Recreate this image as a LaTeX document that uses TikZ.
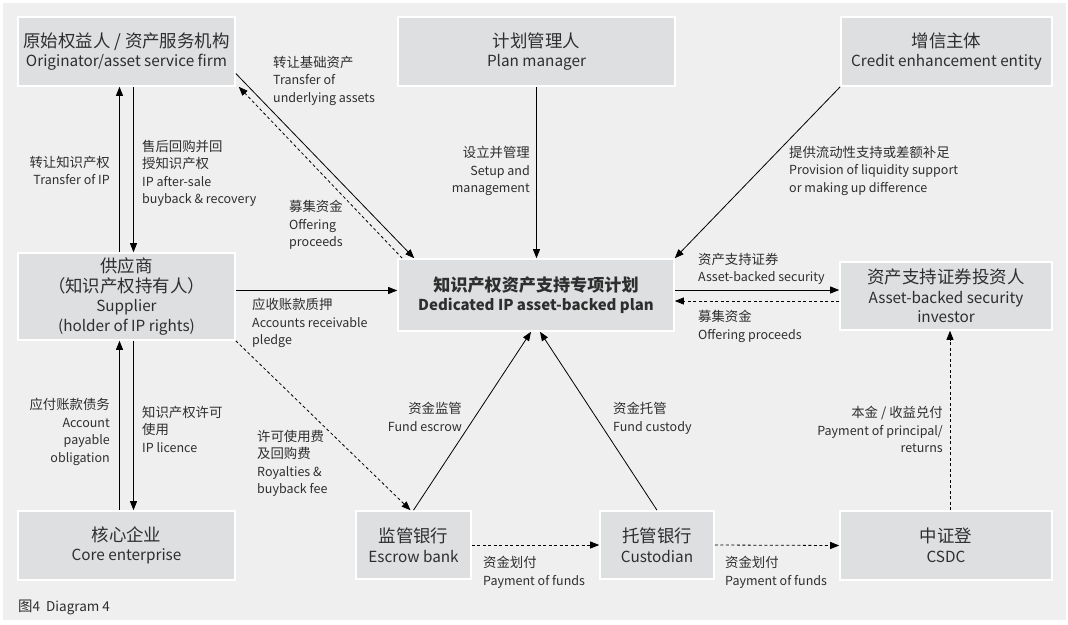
\documentclass[tikz,border=0pt]{standalone}
\usepackage{fontspec}
\setmainfont{Noto Sans CJK SC}
\newfontfamily\cjkbox{Noto Sans CJK SC}[Scale=1.14]
\newfontfamily\cjklab{Noto Sans CJK SC}[Scale=1.07]
\usetikzlibrary{arrows.meta,positioning,calc}
\definecolor{ink}{HTML}{2E2E2E}
\definecolor{panel}{HTML}{EEEFEE}
\definecolor{boxfill}{HTML}{DDDFE0}
\tikzset{
  box/.style={draw=white,line width=1.6pt,fill=boxfill,align=center,text=ink,inner sep=0pt,
    font=\fontsize{15.3}{19.5}\selectfont},
  lab/.style={align=left,text=ink,inner sep=0pt,font=\fontsize{12.5}{17.5}\selectfont},
  labr/.style={lab,align=right},
  arr/.style={draw=black,line width=0.8pt,-{Triangle[length=9pt,width=7pt]}},
  dsh/.style={arr,dash pattern=on 3pt off 2.5pt}
}
\begin{document}
\begin{tikzpicture}[x=1pt,y=-1pt]
\fill[white] (0,0) rectangle (1068,624);
\fill[panel] (3,3) rectangle (1066,620);
\node[box,minimum width=217pt,minimum height=69pt] (orig) at (126.5,51.5){{\cjkbox 原始权益人 / 资产服务机构}\\Originator/asset service firm};
\node[box,minimum width=277pt,minimum height=69pt] (plan) at (536.5,51.5){{\cjkbox 计划管理人}\\Plan manager};
\node[box,minimum width=211pt,minimum height=69pt] (credit) at (946.5,51.5){{\cjkbox 增信主体}\\Credit enhancement entity};
\node[box,minimum width=217pt,minimum height=87pt] (sup) at (126.5,296.5){{\cjkbox 供应商}\\{\cjkbox （知识产权持有人）}\\Supplier\\(holder of IP rights)};
\node[box,minimum width=276pt,minimum height=72pt,font=\fontsize{15}{19.5}\selectfont\bfseries] (ded) at (536,295){{\cjkbox\bfseries 知识产权资产支持专项计划}\\Dedicated IP asset-backed plan};
\node[box,minimum width=212pt,minimum height=68pt] (inv) at (946,296){{\cjkbox 资产支持证券投资人}\\Asset-backed security\\investor};
\node[box,minimum width=217pt,minimum height=69pt] (core) at (126.5,545.5){{\cjkbox 核心企业}\\Core enterprise};
\node[box,minimum width=115pt,minimum height=68pt] (esc) at (413.5,545){{\cjkbox 监管银行}\\Escrow bank};
\node[box,minimum width=114pt,minimum height=68pt] (cust) at (657,545){{\cjkbox 托管银行}\\Custodian};
\node[box,minimum width=212pt,minimum height=69pt] (csdc) at (946,545.5){{\cjkbox 中证登}\\CSDC};

\draw[arr] ([xshift=-7pt]sup.north) -- ([xshift=-7pt]orig.south);
\draw[arr] ([xshift=7pt]orig.south) -- ([xshift=7pt]sup.north);
\draw[arr] ([xshift=-7pt]core.north) -- ([xshift=-7pt]sup.south);
\draw[arr] ([xshift=7pt]sup.south) -- ([xshift=7pt]core.north);
\draw[arr] ([yshift=-22pt]orig.east) -- ([xshift=17pt]ded.north west);
\draw[dsh] ([xshift=5pt]ded.north west) -- ([xshift=3pt]orig.south east);
\draw[arr] (plan.south) -- (plan.south |- ded.north);
\draw[arr] (credit.south west) -- (ded.north east);
\draw[arr] ([yshift=6pt]sup.east) -- ([yshift=6pt]sup.east -| ded.west);
\draw[dsh] (sup.south east) -- ([xshift=-3pt]esc.north);
\draw[arr] (esc.north) -- ([xshift=-5pt]ded.south);
\draw[arr] (cust.north) -- ([xshift=4pt]ded.south);
\draw[arr] ([yshift=5pt]ded.east) -- ([yshift=5pt]ded.east -| inv.west);
\draw[dsh] ([yshift=-5pt]inv.west) -- ([yshift=-5pt]inv.west -| ded.east);
\draw[dsh] (esc.east) -- (cust.west);
\draw[dsh] (cust.east) -- (csdc.west);
\draw[dsh] ([xshift=4pt]csdc.north) -- ([xshift=4pt]csdc.north |- inv.south);

\node[lab,anchor=north west] (lTransAsset) at (273,56){{\cjklab 转让基础资产}\\Transfer of\\underlying assets};
\node[lab,anchor=north west] (lBuyback) at (142,140){{\cjklab 售后回购并回}\\{\cjklab 授知识产权}\\IP after-sale\\buyback \& recovery};
\node[labr,anchor=north east] (lTransIP) at (110,156){{\cjklab 转让知识产权}\\Transfer of IP};
\node[lab,anchor=north west] (lOfferA) at (289,200){{\cjklab 募集资金}\\Offering\\proceeds};
\node[labr,anchor=north east] (lSetup) at (530,146){{\cjklab 设立并管理}\\Setup and\\management};
\node[lab,anchor=north west] (lLiquid) at (789,146){{\cjklab 提供流动性支持或差额补足}\\Provision of liquidity support\\or making up difference};
\node[lab,anchor=north west] (lSecurity) at (698,253){{\cjklab 资产支持证券}\\Asset-backed security};
\node[lab,anchor=north west] (lOfferB) at (698,310){{\cjklab 募集资金}\\Offering proceeds};
\node[lab,anchor=north west] (lPledge) at (252,298){{\cjklab 应收账款质押}\\Accounts receivable\\pledge};
\node[labr,anchor=north east] (lPayable) at (110,398){{\cjklab 应付账款债务}\\Account\\payable\\obligation};
\node[lab,anchor=north west] (lLicence) at (142,406){{\cjklab 知识产权许可}\\{\cjklab 使用}\\IP licence};
\node[lab,anchor=north west] (lRoyalty) at (257,430){{\cjklab 许可使用费}\\{\cjklab 及回购费}\\Royalties \&\\buyback fee};
\node[labr,anchor=north east] (lEscrow) at (462,402){{\cjklab 资金监管}\\Fund escrow};
\node[lab,anchor=north west] (lCustody) at (613,402){{\cjklab 资金托管}\\Fund custody};
\node[lab,anchor=north west] (lPayA) at (483,556){{\cjklab 资金划付}\\Payment of funds};
\node[lab,anchor=north west] (lPayB) at (725,556){{\cjklab 资金划付}\\Payment of funds};
\node[labr,anchor=north east] (lPrincipal) at (943,406){{\cjklab 本金 / 收益兑付}\\Payment of principal/\\returns};
\node[lab,anchor=west,font=\fontsize{13.5}{17}\selectfont] (caption) at (18,607){{\cjklab 图}4\ \ Diagram 4};
\end{tikzpicture}
\end{document}
